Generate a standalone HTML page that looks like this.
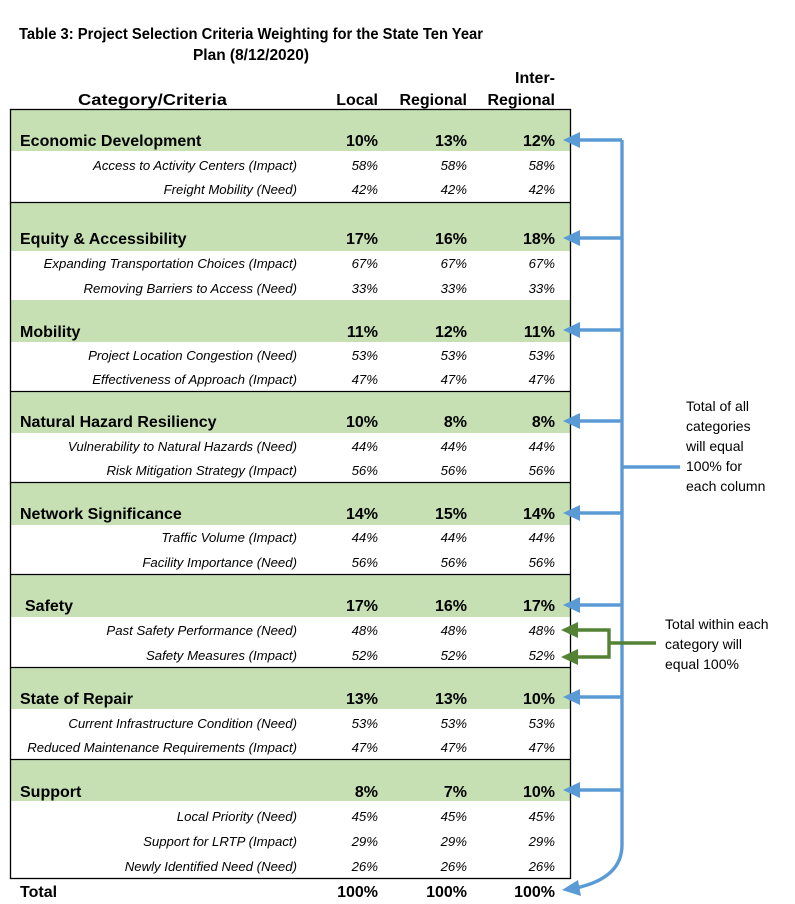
<!DOCTYPE html>
<html><head><meta charset="utf-8"><style>
html,body{margin:0;padding:0;background:#fff;}
svg{display:block;font-family:"Liberation Sans",Arial,sans-serif;}
.b{font-weight:bold;font-size:16px;fill:#000;}
.h{font-weight:bold;font-size:16px;fill:#000;}
.i{font-style:italic;font-size:13.2px;fill:#000;}
.e{text-anchor:end;}
</style></head><body>
<svg width="795" height="904" viewBox="0 0 795 904" xmlns="http://www.w3.org/2000/svg">
<text class="h" x="19" y="39" textLength="464" lengthAdjust="spacingAndGlyphs">Table 3:  Project Selection Criteria Weighting for the State Ten Year</text>
<text class="h" x="193" y="60" textLength="116" lengthAdjust="spacingAndGlyphs">Plan (8/12/2020)</text>
<text class="h e" x="555" y="83">Inter-</text>
<text class="h" x="78" y="105" textLength="149" lengthAdjust="spacingAndGlyphs">Category/Criteria</text>
<text class="h e" x="378" y="105">Local</text>
<text class="h e" x="467" y="105">Regional</text>
<text class="h e" x="555" y="105">Regional</text>

<g fill="#c6e0b4">
<rect x="11" y="110" width="559" height="41"/>
<rect x="11" y="203" width="559" height="48"/>
<rect x="11" y="300" width="559" height="42"/>
<rect x="11" y="392" width="559" height="41"/>
<rect x="11" y="483" width="559" height="42"/>
<rect x="11" y="575" width="559" height="42"/>
<rect x="11" y="668" width="559" height="41"/>
<rect x="11" y="760" width="559" height="41"/>
</g>
<g stroke="#000" stroke-width="1.3" fill="none">
<rect x="10.5" y="109.5" width="560" height="769"/>
<line x1="10" y1="202.5" x2="571" y2="202.5"/>
<line x1="10" y1="391.5" x2="571" y2="391.5"/>
<line x1="10" y1="482.5" x2="571" y2="482.5"/>
<line x1="10" y1="574.5" x2="571" y2="574.5"/>
<line x1="10" y1="667.5" x2="571" y2="667.5"/>
<line x1="10" y1="759.5" x2="571" y2="759.5"/>
</g>

<g class="b">
<text x="20" y="146">Economic Development</text>
<text x="20" y="244">Equity &amp; Accessibility</text>
<text x="20" y="337">Mobility</text>
<text x="20" y="427">Natural Hazard Resiliency</text>
<text x="20" y="519">Network Significance</text>
<text x="25" y="611">Safety</text>
<text x="20" y="704">State of Repair</text>
<text x="20" y="797">Support</text>
<text x="20" y="897">Total</text>
</g>
<g class="b e">
<text x="378" y="146">10%</text><text x="467" y="146">13%</text><text x="555" y="146">12%</text>
<text x="378" y="244">17%</text><text x="467" y="244">16%</text><text x="555" y="244">18%</text>
<text x="378" y="337">11%</text><text x="467" y="337">12%</text><text x="555" y="337">11%</text>
<text x="378" y="427">10%</text><text x="467" y="427">8%</text><text x="555" y="427">8%</text>
<text x="378" y="519">14%</text><text x="467" y="519">15%</text><text x="555" y="519">14%</text>
<text x="378" y="611">17%</text><text x="467" y="611">16%</text><text x="555" y="611">17%</text>
<text x="378" y="704">13%</text><text x="467" y="704">13%</text><text x="555" y="704">10%</text>
<text x="378" y="797">8%</text><text x="467" y="797">7%</text><text x="555" y="797">10%</text>
<text x="378" y="897">100%</text><text x="467" y="897">100%</text><text x="555" y="897">100%</text>
</g>
<g class="i e">
<text x="297" y="170">Access to Activity Centers (Impact)</text><text x="378" y="170">58%</text><text x="467" y="170">58%</text><text x="555" y="170">58%</text>
<text x="297" y="194">Freight Mobility (Need)</text><text x="378" y="194">42%</text><text x="467" y="194">42%</text><text x="555" y="194">42%</text>
<text x="297" y="268">Expanding Transportation Choices (Impact)</text><text x="378" y="268">67%</text><text x="467" y="268">67%</text><text x="555" y="268">67%</text>
<text x="297" y="293">Removing Barriers to Access (Need)</text><text x="378" y="293">33%</text><text x="467" y="293">33%</text><text x="555" y="293">33%</text>
<text x="297" y="360">Project Location Congestion (Need)</text><text x="378" y="360">53%</text><text x="467" y="360">53%</text><text x="555" y="360">53%</text>
<text x="297" y="384">Effectiveness of Approach (Impact)</text><text x="378" y="384">47%</text><text x="467" y="384">47%</text><text x="555" y="384">47%</text>
<text x="297" y="451">Vulnerability to Natural Hazards (Need)</text><text x="378" y="451">44%</text><text x="467" y="451">44%</text><text x="555" y="451">44%</text>
<text x="297" y="475">Risk Mitigation Strategy (Impact)</text><text x="378" y="475">56%</text><text x="467" y="475">56%</text><text x="555" y="475">56%</text>
<text x="297" y="542">Traffic Volume (Impact)</text><text x="378" y="542">44%</text><text x="467" y="542">44%</text><text x="555" y="542">44%</text>
<text x="297" y="567">Facility Importance (Need)</text><text x="378" y="567">56%</text><text x="467" y="567">56%</text><text x="555" y="567">56%</text>
<text x="297" y="635">Past Safety Performance (Need)</text><text x="378" y="635">48%</text><text x="467" y="635">48%</text><text x="555" y="635">48%</text>
<text x="297" y="660">Safety Measures (Impact)</text><text x="378" y="660">52%</text><text x="467" y="660">52%</text><text x="555" y="660">52%</text>
<text x="297" y="728">Current Infrastructure Condition (Need)</text><text x="378" y="728">53%</text><text x="467" y="728">53%</text><text x="555" y="728">53%</text>
<text x="297" y="752">Reduced Maintenance Requirements (Impact)</text><text x="378" y="752">47%</text><text x="467" y="752">47%</text><text x="555" y="752">47%</text>
<text x="297" y="821">Local Priority (Need)</text><text x="378" y="821">45%</text><text x="467" y="821">45%</text><text x="555" y="821">45%</text>
<text x="297" y="846">Support for LRTP (Impact)</text><text x="378" y="846">29%</text><text x="467" y="846">29%</text><text x="555" y="846">29%</text>
<text x="297" y="871">Newly Identified Need (Need)</text><text x="378" y="871">26%</text><text x="467" y="871">26%</text><text x="555" y="871">26%</text>
</g>

<g stroke="#5b9bd5" stroke-width="3.4" fill="none">
<path d="M622,140 L622,845 Q622,878 576,888"/>
<line x1="622" y1="467" x2="680" y2="467"/>
<line x1="622" y1="140" x2="578" y2="140"/>
<line x1="622" y1="238" x2="578" y2="238"/>
<line x1="622" y1="330" x2="578" y2="330"/>
<line x1="622" y1="421" x2="578" y2="421"/>
<line x1="622" y1="513" x2="578" y2="513"/>
<line x1="622" y1="605" x2="578" y2="605"/>
<line x1="622" y1="697" x2="578" y2="697"/>
<line x1="622" y1="790" x2="578" y2="790"/>
</g>
<g fill="#5b9bd5">
<path d="M563,140 L580,132 L580,148Z"/>
<path d="M563,238 L580,230 L580,246Z"/>
<path d="M563,330 L580,322 L580,338Z"/>
<path d="M563,421 L580,413 L580,429Z"/>
<path d="M563,513 L580,505 L580,521Z"/>
<path d="M563,605 L580,597 L580,613Z"/>
<path d="M563,697 L580,689 L580,705Z"/>
<path d="M563,790 L580,782 L580,798Z"/>
<path d="M562,890 L578,880 L581,896Z"/>
</g>
<g stroke="#548235" stroke-width="3.4" fill="none">
<path d="M576,630 L609,630 L609,657 L576,657"/>
<line x1="609" y1="643" x2="656" y2="643"/>
</g>
<g fill="#548235">
<path d="M561,630 L578,622 L578,638Z"/>
<path d="M561,657 L578,649 L578,665Z"/>
</g>

<g font-size="14" fill="#000">
<text x="686" y="411">Total of all</text>
<text x="686" y="431">categories</text>
<text x="686" y="451">will equal</text>
<text x="686" y="471">100% for</text>
<text x="686" y="491">each column</text>
<text x="665" y="629">Total within each</text>
<text x="665" y="649">category will</text>
<text x="665" y="669">equal 100%</text>
</g>
</svg>
</body></html>
